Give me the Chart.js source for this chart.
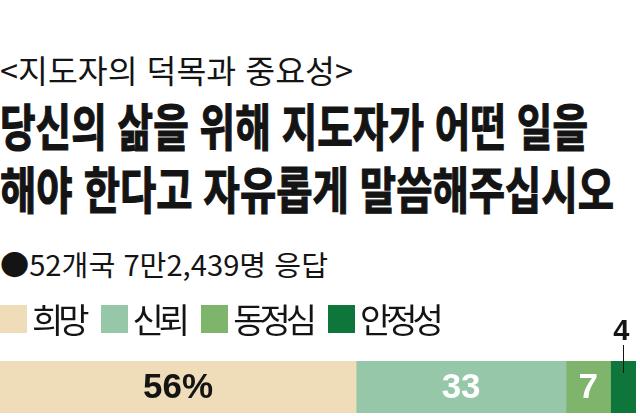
<!DOCTYPE html>
<html lang="ko">
<head>
<meta charset="utf-8">
<script src="https://cdn.jsdelivr.net/npm/chart.js@4.4.1/dist/chart.umd.min.js"></script>
<style>
  html, body { margin: 0; padding: 0; background: #fff; }
  body {
    width: 640px; height: 416px; position: relative; overflow: hidden;
    font-family: "Noto Sans CJK KR", "Noto Sans", sans-serif; color: #141414;
  }
  .fit { position: absolute; left: 0; white-space: nowrap; transform-origin: 0 0; line-height: 1; }
  #kicker { top: 53px; font-size: 32px; font-weight: 400; }
  .head { font-size: 50px; font-weight: 700; -webkit-text-stroke: 1.2px #141414; }
  #head1 { top: 99px; }
  #head2 { top: 162px; }
  #note { top: 250px; font-size: 28px; font-weight: 400; }
  #legend {
    position: absolute; top: 302px; left: 0; height: 34px;
    display: flex; align-items: center;
  }
  .item { display: flex; align-items: center; margin-right: 16px; }
  .box { width: 27px; height: 28px; margin-right: 5px; }
  .txt { font-size: 34px; line-height: 1; letter-spacing: -5px; }
  #chartWrap { position: absolute; left: 0; top: 300px; width: 640px; height: 116px; }
</style>
</head>
<body>
<div class="fit" id="kicker" data-w="353">&lt;지도자의 덕목과 중요성&gt;</div>
<div class="fit head" id="head1" data-w="588">당신의 삶을 위해 지도자가 어떤 일을</div>
<div class="fit head" id="head2" data-w="614">해야 한다고 자유롭게 말씀해주십시오</div>
<div class="fit" id="note" data-w="328">●52개국 7만2,439명 응답</div>
<div id="chartWrap"><canvas id="barChart" width="640" height="116"></canvas></div>
<div id="legend"></div>

<script>
const categories = ['응답'];
const seriesNames = ['희망', '신뢰', '동정심', '안정성'];
const seriesValues = [56, 33, 7, 4];
const valueLabels = ['56%', '33', '7', '4'];

const seriesColors = ['#efdcb8', '#96c7a8', '#7eb46b', '#0e763b'];
const labelColors = ['#141414', '#ffffff', '#ffffff', '#141414'];

// values printed on the bar; the thin last slice gets its number above with a tick
const barLabels = {
    id: 'barLabels',
    afterDatasetsDraw(chart) {
        const ctx = chart.ctx;
        const last = seriesValues.length - 1;
        ctx.save();
        ctx.textAlign = 'center';
        ctx.textBaseline = 'alphabetic';
        chart.data.datasets.forEach((ds, i) => {
            const bar = chart.getDatasetMeta(i).data[0];
            const cx = (bar.x + bar.base) / 2;
            const top = bar.y - bar.height / 2;
            if (i === last) {
                ctx.strokeStyle = '#141414';
                ctx.lineWidth = 1;
                ctx.beginPath();
                ctx.moveTo(Math.round(cx) + 0.5, top - 16);
                ctx.lineTo(Math.round(cx) + 0.5, top + 12);
                ctx.stroke();
                ctx.fillStyle = labelColors[i];
                ctx.font = 'bold 29px "Liberation Sans", Arial, sans-serif';
                ctx.fillText(valueLabels[i], cx - 2, top - 21);
            } else {
                ctx.fillStyle = labelColors[i];
                ctx.font = 'bold 35px "Liberation Sans", Arial, sans-serif';
                ctx.fillText(valueLabels[i], cx, bar.y + 11);
            }
        });
        ctx.restore();
    }
};

const ctx = document.getElementById('barChart').getContext('2d');
const barChart = new Chart(ctx, {
    type: 'bar',
    data: {
        labels: categories,
        datasets: seriesNames.map((name, i) => ({
            label: name,
            data: [seriesValues[i]],
            backgroundColor: seriesColors[i],
            borderWidth: 0,
            barPercentage: 1,
            categoryPercentage: 1
        }))
    },
    options: {
        indexAxis: 'y',
        responsive: false,
        animation: false,
        layout: {
            padding: { top: 61, bottom: 3, left: 0, right: 4 }
        },
        scales: {
            x: { stacked: true, min: 0, max: 100, display: false },
            y: { stacked: true, display: false }
        },
        plugins: {
            legend: { display: false },
            tooltip: { enabled: false }
        }
    },
    plugins: [barLabels]
});

// html legend built from the chart's own legend items
const legendEl = document.getElementById('legend');
barChart.options.plugins.legend.labels.generateLabels(barChart).forEach(item => {
    const row = document.createElement('div');
    row.className = 'item';
    const box = document.createElement('span');
    box.className = 'box';
    box.style.background = item.fillStyle;
    const txt = document.createElement('span');
    txt.className = 'txt';
    txt.textContent = item.text;
    row.appendChild(box);
    row.appendChild(txt);
    legendEl.appendChild(row);
});

// the print font is condensed, squeeze each text line to its width
function fitLines() {
    document.querySelectorAll('.fit').forEach(el => {
        el.style.transform = 'none';
        const w = el.getBoundingClientRect().width;
        const target = parseFloat(el.dataset.w);
        el.style.transform = 'scaleX(' + (target / w).toFixed(4) + ')';
    });
}
fitLines();
if (document.fonts && document.fonts.ready) {
    document.fonts.ready.then(fitLines);
}
</script>
</body>
</html>
